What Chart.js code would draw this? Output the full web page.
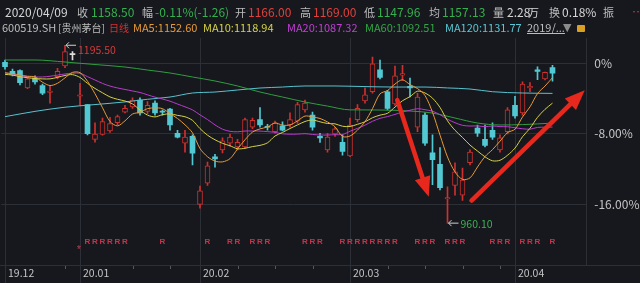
<!DOCTYPE html>
<html>
<head>
<meta charset="utf-8">
<script src="https://cdn.jsdelivr.net/npm/chart.js@4.4.0/dist/chart.umd.min.js"></script>
<style>
  html, body { margin: 0; padding: 0; background: #16181d; }
  #wrap { position: relative; width: 640px; height: 283px; overflow: hidden; font-family: "Noto Sans CJK SC", sans-serif; }
  #kline { position: absolute; left: 0; top: 0; }
  .t { position: absolute; white-space: nowrap; line-height: 1; }
  .r1 { top: 6px; font-size: 12px; }
  .r1.c { top: 7px; font-size: 11px; }
  .r2 { top: 22px; font-size: 11px; }
  .r2.c { top: 22.5px; font-size: 10px; }
  .g { color: #bdbdbd; }
  .w { color: #d6d6d6; }
  .up { color: #e0413c; }
  .dn { color: #35b04e; }
</style>
</head>
<body>
<div id="wrap">
  <canvas id="kline" width="640" height="283"></canvas>

  <span class="t r1 w" style="left:5px">2020/04/09</span>
  <span class="t r1 c g" style="left:77px">收</span>
  <span class="t r1 dn" style="left:91px">1158.50</span>
  <span class="t r1 c g" style="left:142px">幅</span>
  <span class="t r1 dn" style="left:155px">-0.11%(-1.26)</span>
  <span class="t r1 c g" style="left:235px">开</span>
  <span class="t r1 up" style="left:248px">1166.00</span>
  <span class="t r1 c g" style="left:300px">高</span>
  <span class="t r1 up" style="left:313px">1169.00</span>
  <span class="t r1 c g" style="left:364px">低</span>
  <span class="t r1 dn" style="left:377px">1147.96</span>
  <span class="t r1 c g" style="left:429px">均</span>
  <span class="t r1 dn" style="left:442px">1157.13</span>
  <span class="t r1 c g" style="left:493px">量</span>
  <span class="t r1 w" style="left:507px">2.28</span>
  <span class="t r1 c w" style="left:528px">万</span>
  <span class="t r1 c g" style="left:549px">换</span>
  <span class="t r1 w" style="left:562px">0.18%</span>
  <span class="t r1 c g" style="left:603px">振</span>
  <span class="t r1 up" style="left:632px">…</span>

  <span class="t r2 g" style="left:2px">600519.SH</span>
  <span class="t r2 c g" style="left:58px">[贵州茅台]</span>
  <span class="t r2 c" style="left:109px;color:#d8302e">日线</span>
  <span class="t r2" style="left:133px;color:#e89a38">MA5:1152.60</span>
  <span class="t r2" style="left:203px;color:#d6d244">MA10:1118.94</span>
  <span class="t r2" style="left:287px;color:#c23ed4">MA20:1087.32</span>
  <span class="t r2" style="left:365px;color:#2fa844">MA60:1092.51</span>
  <span class="t r2" style="left:445px;color:#5cc6d2">MA120:1131.77</span>
  <span class="t r2 g" style="left:527px;text-decoration:underline">2019/...</span>
  <span class="t r2" style="left:563px;color:#8a8a8a;font-family:'DejaVu Sans'">▼</span>
  <span class="t" style="left:577px;top:25px;width:8px;height:7px;background:#d9a023;border-radius:1px"></span>
</div>

<script>
// 600519.SH daily candles, 2019-12-18 .. 2020-04-09
const dates = [
  '2019-12-18','2019-12-19','2019-12-20','2019-12-23','2019-12-24','2019-12-25','2019-12-26','2019-12-27','2019-12-30','2019-12-31',
  '2020-01-02','2020-01-03','2020-01-06','2020-01-07','2020-01-08','2020-01-09','2020-01-10','2020-01-13','2020-01-14','2020-01-15',
  '2020-01-16','2020-01-17','2020-01-20','2020-01-21','2020-01-22','2020-01-23',
  '2020-02-03','2020-02-04','2020-02-05','2020-02-06','2020-02-07','2020-02-10','2020-02-11','2020-02-12','2020-02-13','2020-02-14',
  '2020-02-17','2020-02-18','2020-02-19','2020-02-20','2020-02-21','2020-02-24','2020-02-25','2020-02-26','2020-02-27','2020-02-28',
  '2020-03-02','2020-03-03','2020-03-04','2020-03-05','2020-03-06','2020-03-09','2020-03-10','2020-03-11','2020-03-12','2020-03-13',
  '2020-03-16','2020-03-17','2020-03-18','2020-03-19','2020-03-20','2020-03-23','2020-03-24','2020-03-25','2020-03-26','2020-03-27',
  '2020-03-30','2020-03-31',
  '2020-04-01','2020-04-02','2020-04-03','2020-04-07','2020-04-08','2020-04-09'
];

const opens = [1173,1161,1162,1139,1152,1142,1133,1154,1168,1183,
  1128,1117,1070.86,1077.5,1082,1093,1107,1114,1123,1108,1119,1108,1111,1079,1066,1075,
  985,1013,1048,1057,1066,1061,1061,1087,1097,1088,1081,1089,1090,1095,1110,1103,1075,1057,1078,1067,
  1049,1097,1122,1134,1163,1134,1118,1156,1141,1087,1103,1053,1038,992,1010,997,1040,1086,1071,1083,1057,1081,
  1116,1106,1139,1163,1151,1166];
const highs = [1176,1164,1163,1153,1155,1144,1142,1165,1195.5,1187,
  1145,1117,1092.9,1099,1100,1103,1116,1126,1126,1121,1122,1110,1112,1083,1083,1077,
  1009,1041,1051,1073,1078,1071,1099,1099,1113,1091,1095,1094,1106,1120,1123,1107,1079,1079,1087,1077,
  1099,1117,1139,1180,1176,1136,1168,1169,1152,1132,1106,1077,1060,1008,1040,1033,1057,1090,1090,1093,1077,1113,
  1128,1147,1146,1167,1160,1169];
const lows = [1164,1155,1143,1138,1144,1130,1119,1151,1166,1176,
  1116,1076.9,1067.3,1076.4,1080,1090,1106,1112,1103,1105,1103,1103,1083,1073,1054,1037,
  980,1010,1034,1053,1062,1057,1059,1085,1087,1083,1079,1082,1087,1092,1107,1083,1067,1054,1075,1050,
  1048,1094,1119,1132,1151,1110,1116,1149,1127,1081,1063,1011,1004,960.1,997,990,1037,1075,1061,1071,1054,1078,
  1099,1103,1134,1150,1149.5,1147.96];
const closes = [1167,1157,1146,1151,1147,1132,1135,1161,1187,1183,
  1130,1078.56,1077.99,1094.53,1092,1101,1112,1123,1106,1116,1106,1107,1090,1074,1074,1052.8,
  1003,1036,1045,1069,1074,1067,1097,1096,1090,1087,1093,1083,1097,1117,1119,1087,1073,1074,1085,1055,
  1090,1112,1130,1171,1153,1112,1155,1158,1139,1127,1066,1044,1007,994,1028,1017,1054,1079,1063,1074,1073,1110,
  1102,1144,1141,1161,1159.7,1158.5];

const ma5 = [1159,1158,1156,1154.5,1153.6,1146.6,1142.2,1145.2,1152.4,1159.6,
  1159.2,1147.9,1131.3,1112.8,1094.6,1088.8,1095.5,1104.5,1106.8,1111.6,1112.6,1111.6,1105,1098.6,1090.2,1079.6,
  1058.8,1048,1042.2,1041.2,1045.4,1058.2,1070.4,1080.6,1084.8,1087.4,1092.6,1089.8,1090,1095.4,1101.8,1100.6,1098.6,1094,1087.6,1074.8,
  1075.4,1083.2,1094.4,1111.6,1131.2,1135.6,1144.2,1149.8,1143.4,1138.2,1129,1106.8,1076.6,1047.6,1027.8,1018,1020,1034.4,1048.2,1057.4,1068.6,1079.8,
  1084.4,1100.6,1114,1131.6,1141.5,1152.6];
const ma10 = [1157,1156,1154,1152.5,1151.5,1151,1151,1153,1155.5,1156.6,
  1152.9,1145.1,1138.3,1132.6,1127.1,1124,1121.7,1117.9,1109.8,1103.1,1100.7,1103.6,1104.8,1102.7,1100.9,1096.1,
  1085.2,1076.5,1070.4,1065.7,1062.5,1058.5,1059.2,1061.4,1063,1066.4,1075.4,1080.1,1085.3,1090.1,1094.6,1096.6,1094.2,1092,1091.5,1088.3,
  1088,1090.9,1094.2,1099.6,1103,1105.5,1113.7,1122.1,1127.5,1134.7,1132.3,1125.5,1113.2,1095.5,1083,1073.5,1063.4,1055.5,1047.9,1042.6,1043.3,1049.9,
  1059.4,1074.4,1085.7,1100.1,1110.7,1118.9];
const ma20 = [1159,1157,1155,1154,1153.5,1153.5,1154.5,1156,1157.5,1158.5,
  1158.5,1154,1149.5,1145,1141.5,1139,1137,1135,1133,1129.9,1126.8,1124.3,1121.5,1117.7,1114,1110,
  1103.4,1097.2,1090.1,1084.4,1081.6,1081,1082,1082,1081.9,1081.2,1080.3,1078.3,1077.8,1077.9,1078.5,1077.5,1076.7,1076.7,1077.2,1077.4,
  1081.7,1085.5,1089.8,1094.9,1098.8,1101.1,1104,1107.1,1109.5,1111.5,1110.2,1108.2,1103.7,1097.6,1093,1089.5,1088.6,1088.8,1087.7,1088.7,1087.8,1087.7,
  1086.3,1085,1084.4,1086.8,1087,1087.3];
// slow averages, read at [candle index, value]
const ma60 = [[0,1176],[4,1176],[8,1173.3],[12,1170],[16,1166.7],[19,1162.7],[22,1158.8],[25,1153.5],[28,1148.2],
  [31,1141.6],[34,1133.6],[37,1127],[40,1120.4],[43,1115],[46,1110],[50,1109.8],[54,1108.5],[57,1105.8],
  [60,1099.2],[63,1092.6],[66,1090],[69,1090.5],[73,1092.5]];
const ma120 = [[0,1101],[4,1108],[8,1113.5],[12,1117],[16,1120.5],[19,1124],[22,1127],[25,1132.3],[28,1133.6],
  [31,1136.3],[34,1138.9],[37,1140.2],[40,1141.6],[44,1141.6],[48,1140.8],[52,1140.2],[56,1140.2],[59,1139],
  [62,1137.6],[65,1134],[69,1132.3],[73,1131.8]];

// right axis: percent against base price
const basePrice = 1172;
const pctTicks = [0, -8, -16];
const yMin = 904.7, yMax = 1205.1;

// markers under the candles
const rMarks = [11,12,13,14,15,16,21,27,30,31,33,34,35,40,41,42,45,46,47,48,49,50,51,52,55,56,57,59,60,61,65,66,67,69,70,71,73];
const starMark = 10;
const weekTicks = [8,17,22,31,36,41,51,56,61,66];
// hand drawn arrows: [index, price] -> [index, price]
const arrows = [[52.3, 1123, 56.5, 995], [62.2, 990, 77.3, 1136]];

const BG = '#16181d', RED = '#d0302e', CYAN = '#52c8d2', GRID = '#2c2f36';
const slots = dates.concat(['', '', '', '']);

const monthLabels = {};
const monthIdx = [];
dates.forEach(function (d, i) {
  if (i == 0 || d.slice(5, 7) != dates[i - 1].slice(5, 7)) {
    monthLabels[i] = d.slice(2, 4) + '.' + d.slice(5, 7);
    monthIdx.push(i);
  }
});

const bodyColor = opens.map((o, i) => closes[i] > o ? BG : (closes[i] < o ? CYAN : '#dddddd'));
const edgeColor = opens.map((o, i) => closes[i] > o ? RED : (closes[i] < o ? CYAN : '#dddddd'));

function bigArrow(ctx, x1, y1, x2, y2) {
  const ang = Math.atan2(y2 - y1, x2 - x1);
  const len = 20, half = 8;
  const bx = x2 - len * Math.cos(ang), by = y2 - len * Math.sin(ang);
  ctx.beginPath(); ctx.moveTo(x1, y1); ctx.lineTo(bx, by); ctx.stroke();
  ctx.beginPath();
  ctx.moveTo(x2, y2);
  ctx.lineTo(bx + half * Math.sin(ang), by - half * Math.cos(ang));
  ctx.lineTo(bx - half * Math.sin(ang), by + half * Math.cos(ang));
  ctx.closePath(); ctx.fill();
}

function pointer(ctx, px, py, text, color, dy) {
  ctx.strokeStyle = '#cfcfcf'; ctx.lineWidth = 1;
  ctx.beginPath();
  ctx.moveTo(px + 1, py); ctx.lineTo(px + 11, py);
  ctx.moveTo(px + 4, py - 3); ctx.lineTo(px + 1, py); ctx.lineTo(px + 4, py + 3);
  ctx.stroke();
  ctx.fillStyle = color;
  ctx.font = '10.5px "Noto Sans CJK SC"';
  ctx.textAlign = 'left'; ctx.textBaseline = 'middle';
  ctx.fillText(text, px + 13, py + dy);
}

const marks = {
  id: 'marks',
  beforeDatasetsDraw(chart) {
    const { ctx, chartArea: a, scales: { x } } = chart;
    ctx.save();
    ctx.strokeStyle = GRID; ctx.lineWidth = 1;
    monthIdx.forEach(i => {
      const px = Math.round(x.getPixelForValue(i)) + 0.5;
      ctx.beginPath(); ctx.moveTo(px, a.top); ctx.lineTo(px, chart.height); ctx.stroke();
    });
    ctx.beginPath(); ctx.moveTo(0, a.bottom + 0.5); ctx.lineTo(chart.width, a.bottom + 0.5); ctx.stroke();
    ctx.strokeStyle = '#55585f';
    weekTicks.forEach(i => {
      const px = Math.round(x.getPixelForValue(i)) + 0.5;
      ctx.beginPath(); ctx.moveTo(px, a.bottom + 1); ctx.lineTo(px, a.bottom + 4); ctx.stroke();
    });
    ctx.restore();
  },
  afterDatasetsDraw(chart) {
    const { ctx, chartArea: a, scales: { x, y } } = chart;
    ctx.save();
    ctx.fillStyle = '#c8344a';
    ctx.font = 'bold 8px "Liberation Sans"';
    ctx.textAlign = 'center'; ctx.textBaseline = 'middle';
    rMarks.forEach(i => ctx.fillText('R', x.getPixelForValue(i), a.bottom - 23));
    ctx.font = '11px "Liberation Sans"';
    ctx.fillText('*', x.getPixelForValue(starMark) - 1, a.bottom - 15);

    const hi = Math.max(...highs), lo = Math.min(...lows);
    const hiI = highs.indexOf(hi), loI = lows.indexOf(lo);
    pointer(ctx, x.getPixelForValue(hiI), y.getPixelForValue(hi), hi.toFixed(2), '#d23c3c', 5);
    pointer(ctx, x.getPixelForValue(loI), y.getPixelForValue(lo), lo.toFixed(2), '#3cb054', 1);

    ctx.strokeStyle = ctx.fillStyle = '#e8281c';
    ctx.lineWidth = 4.5; ctx.lineCap = 'round';
    arrows.forEach(function (ar) {
      bigArrow(ctx, x.getPixelForValue(ar[0]), y.getPixelForValue(ar[1]), x.getPixelForValue(ar[2]), y.getPixelForValue(ar[3]));
    });
    ctx.restore();
  }
};

function maLine(label, data, color) {
  return { type: 'line', label: label, data: data, borderColor: color, borderWidth: 1,
    pointRadius: 0, tension: 0.3, order: 1 };
}
function maPts(list) {
  return list.map(p => ({ x: dates[p[0]], y: p[1] }));
}

new Chart(document.getElementById('kline'), {
  type: 'bar',
  data: {
    labels: slots,
    datasets: [
      { label: 'wick', data: lows.map((l, i) => [l, highs[i]]), backgroundColor: edgeColor,
        barThickness: 1, grouped: false, order: 3 },
      { label: 'body', data: opens.map((o, i) => [o, closes[i]]), backgroundColor: bodyColor,
        borderColor: edgeColor, borderWidth: opens.map((o, i) => closes[i] > o ? 1 : 0), borderSkipped: false,
        barThickness: 5, minBarLength: 1, grouped: false, order: 2 },
      maLine('MA5', ma5, '#e89a38'),
      maLine('MA10', ma10, '#d6d244'),
      maLine('MA20', ma20, '#b83ccc'),
      Object.assign(maLine('MA60', maPts(ma60), '#2f9e40'), { cubicInterpolationMode: 'monotone' }),
      Object.assign(maLine('MA120', maPts(ma120), '#58c2cf'), { cubicInterpolationMode: 'monotone' })
    ]
  },
  options: {
    responsive: false,
    animation: false,
    devicePixelRatio: 1,
    layout: { padding: { left: 1.25, top: 38, right: 0, bottom: 0 } },
    plugins: { legend: { display: false }, tooltip: { enabled: false } },
    scales: {
      x: {
        offset: true,
        grid: { display: false, drawTicks: false },
        border: { display: false },
        ticks: {
          autoSkip: false, maxRotation: 0, minRotation: 0, align: 'start', labelOffset: 3, padding: 2,
          color: '#c4c4c4', font: { size: 10.5, family: 'Noto Sans CJK SC' },
          callback: (v, i) => monthLabels[i] || ''
        },
        afterFit: s => { s.height = 18; }
      },
      y: {
        position: 'right',
        min: yMin, max: yMax,
        afterBuildTicks: s => { s.ticks = pctTicks.map(p => ({ value: basePrice * (1 + p / 100) })); },
        afterFit: s => { s.width = 53.75; },
        grid: { color: GRID, drawTicks: false },
        border: { display: true, color: GRID },
        ticks: {
          padding: 8, color: '#c4c4c4', font: { size: 12, family: 'Noto Sans CJK SC' },
          callback: (v, i) => pctTicks[i] == 0 ? '0%' : pctTicks[i].toFixed(2) + '%'
        }
      }
    }
  },
  plugins: [marks]
});
</script>
</body>
</html>
